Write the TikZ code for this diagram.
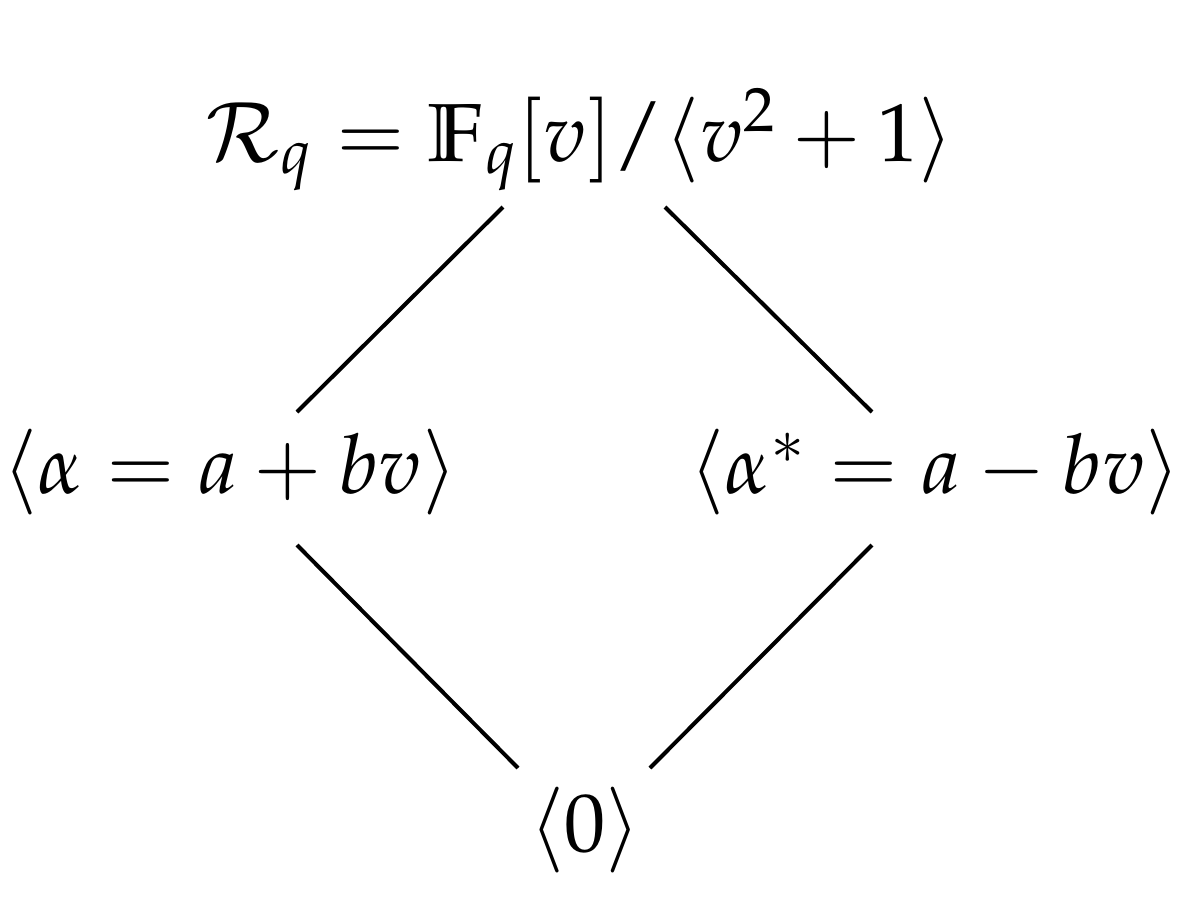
\documentclass[tikz,border=0pt]{standalone}
\usepackage{amssymb}
\usepackage{mathpazo}
\begin{document}
\begin{tikzpicture}[x=0.25pt,y=-0.25pt,
  lbl/.style={inner sep=0pt,font=\fontsize{20.6}{25}\selectfont},
  edge/.style={line width=1pt}]
\useasboundingbox (0,0) rectangle (1182,911);
\node[lbl] (top) at (580,140) {$\mathcal{R}_q=\mathbb{F}_q[v]/\langle v^2+1\rangle$};
\node[lbl] (left) at (230,472) {$\langle \alpha=a+bv\rangle$};
\node[lbl] (right) at (935,472) {$\langle \alpha^{*}=a-bv\rangle$};
\node[lbl] (bot) at (585,830) {$\langle 0\rangle$};
\coordinate (t1) at (503,207); \coordinate (l1) at (297,412);
\coordinate (t2) at (665,207); \coordinate (r1) at (872,412);
\coordinate (l2) at (297,545); \coordinate (b1) at (518,768);
\coordinate (r2) at (872,545); \coordinate (b2) at (650,768);
\draw[edge] (t1) -- (l1);
\draw[edge] (t2) -- (r1);
\draw[edge] (l2) -- (b1);
\draw[edge] (r2) -- (b2);
\end{tikzpicture}
\end{document}
